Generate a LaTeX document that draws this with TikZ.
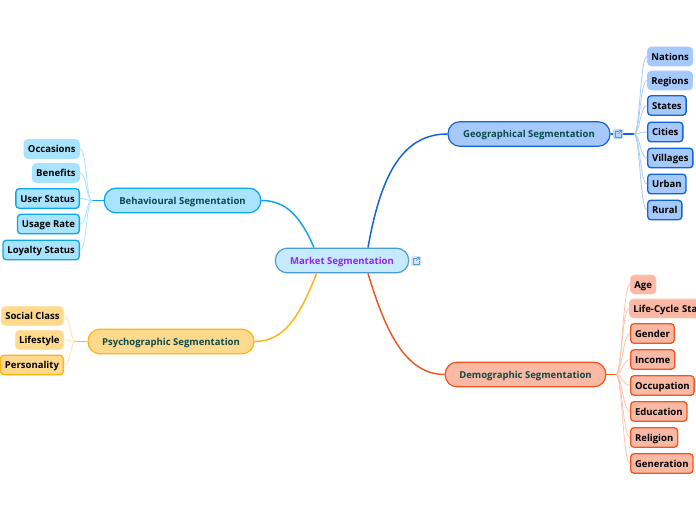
\documentclass[tikz,border=0pt]{standalone}
\usepackage{fontspec}
\setmainfont{Open Sans}
\definecolor{rootfill}{HTML}{C6EAFE}
\definecolor{rootline}{HTML}{4A9CD3}
\definecolor{rootink}{HTML}{9A1FF0}
\definecolor{rootchip}{HTML}{DCE4FC}
\definecolor{mainink}{HTML}{0B4A4A}
\definecolor{geofill}{HTML}{A6C9FB}
\definecolor{geoline}{HTML}{1262D8}
\definecolor{geosoft}{HTML}{A9CBFA}
\definecolor{demofill}{HTML}{F9B9A4}
\definecolor{demoline}{HTML}{F2561F}
\definecolor{demosoft}{HTML}{FCC4B2}
\definecolor{behavfill}{HTML}{A9E4FF}
\definecolor{behavline}{HTML}{0FA5E9}
\definecolor{behavsoft}{HTML}{A6E2FF}
\definecolor{psychofill}{HTML}{FFD98C}
\definecolor{psycholine}{HTML}{FDB515}
\definecolor{psychosoft}{HTML}{FFE2A6}
\tikzset{
  boldtext/.style={font=\fontsize{7.15}{8}\selectfont\bfseries,text height=6.4pt,text depth=0.7pt},
  mainbox/.style={boldtext,draw=#1line,fill=#1fill,line width=0.9pt,rounded corners=9pt,minimum height=18.5pt,inner sep=0pt,text=mainink},
  softleaf/.style={boldtext,draw=#1soft,fill=#1fill,line width=0.75pt,rounded corners=3pt,minimum height=14pt,inner xsep=2.9pt,inner ysep=0pt},
  hardleaf/.style={boldtext,draw=#1line,fill=#1fill,line width=1pt,rounded corners=2.5pt,minimum height=14.6pt,inner xsep=3.3pt,inner ysep=0pt},
  iconbox/.style={fill=#1,rounded corners=1pt,minimum size=7.5pt,inner sep=0pt},
  linkicon/.pic={
    \draw[#1,line width=0.5pt] (1,-3) -- (-3,-3) -- (-3,3) -- (3,3) -- (3,0);
    \draw[#1,line width=0.5pt] (0,0) -- (3.5,-3.5);
    \draw[#1,line width=0.5pt] (0.5,-3.5) -- (3.5,-3.5) -- (3.5,-0.5);
  }
}
\begin{document}
\begin{tikzpicture}[x=0.75pt,y=-0.75pt]
\useasboundingbox (0,0) rectangle (696,520);
\fill[white] (0,0) rectangle (696,520);
% centre
\node[boldtext,draw=rootline,fill=rootfill,line width=0.9pt,rounded corners=9pt,minimum width=100pt,minimum height=18.5pt,inner sep=0pt,text=rootink] (root) at (342,260.5) {Market Segmentation};
\node[iconbox=rootchip] (rootlink) at (416,261) {};
\pic at (rootlink) {linkicon={rootline}};
% four branches
\node[mainbox=geo,minimum width=121.5pt] (geo) at (529,134) {Geographical Segmentation\hspace{3pt}};
\node[mainbox=demo,minimum width=120.5pt] (demo) at (525.5,374.5) {Demographic Segmentation};
\node[mainbox=behav,minimum width=117.5pt] (behav) at (182.5,200.5) {Behavioural Segmentation};
\node[mainbox=psycho,minimum width=124.5pt] (psycho) at (171,341.5) {Psychographic Segmentation};
\draw[geoline,line width=1.1pt] ([xshift=19.5pt]root.north) .. controls (380,180) and (400,134) .. (geo.west);
\draw[demoline,line width=1.1pt] ([xshift=19.5pt]root.south) .. controls (385,330) and (405,374.5) .. (demo.west);
\draw[behavline,line width=1.1pt] ([xshift=-21pt]root.north) .. controls (300,215) and (285,200.5) .. (behav.east);
\draw[psycholine,line width=1.1pt] ([xshift=-19pt]root.south) .. controls (300,315) and (285,341.5) .. (psycho.east);
% hubs
\coordinate (geohub) at (634,134);
\coordinate (demohub) at (616,374.5);
\coordinate (behavhub) at (92,200.5);
\coordinate (psychohub) at (76,341.5);
\draw[geoline,line width=1.1pt] (geo.east) -- (geohub);
\draw[demoline,line width=1.1pt] (demo.east) -- (demohub);
\draw[behavline,line width=1.1pt] (behav.west) -- (behavhub);
\draw[psycholine,line width=1.1pt] (psycho.west) -- (psychohub);
\node[iconbox=geofill!75!white] (geolink) at (618,134) {};
\pic at (geolink) {linkicon={geoline!70!white}};
% leaves on the right
\foreach \leafname/\leaftext/\leafy/\leafsty in {nations/Nations/56.5/softleaf,regions/Regions/80.5/softleaf,states/States/105.5/hardleaf,cities/Cities/132/hardleaf,villages/Villages/158/hardleaf,urban/Urban/184/hardleaf,rural/Rural/210/hardleaf}{
  \node[\leafsty=geo,anchor=west] (\leafname) at (647,\leafy) {\leaftext};
  \draw[geosoft,line width=0.6pt] (geohub) .. controls +(6,0) and +(-7,0) .. (\leafname.west);
}
\node[softleaf=demo,anchor=west,text width=70pt,align=left] (lifecycle) at (629,308.5) {Life-Cycle Sta};
\draw[demosoft,line width=0.6pt] (demohub) .. controls +(6,0) and +(-7,0) .. (lifecycle.west);
\foreach \leafname/\leaftext/\leafy/\leafsty in {age/Age/284.5/softleaf,gender/Gender/333.5/hardleaf,income/Income/359.5/hardleaf,occupation/Occupation/385.5/hardleaf,education/Education/411.5/hardleaf,religion/Religion/437.5/hardleaf,generation/Generation/463.5/hardleaf}{
  \node[\leafsty=demo,anchor=west] (\leafname) at (630,\leafy) {\leaftext};
  \draw[demosoft,line width=0.6pt] (demohub) .. controls +(6,0) and +(-7,0) .. (\leafname.west);
}
% leaves on the left
\foreach \leafname/\leaftext/\leafy/\leafsty in {occasions/Occasions/149/softleaf,benefits/Benefits/173/softleaf,userstatus/User Status/198.5/hardleaf,usagerate/Usage Rate/224/hardleaf,loyalty/Loyalty Status/250/hardleaf}{
  \node[\leafsty=behav,anchor=east] (\leafname) at (80,\leafy) {\leaftext};
  \draw[behavsoft,line width=0.6pt] (behavhub) .. controls +(-6,0) and +(7,0) .. (\leafname.east);
}
\foreach \leafname/\leaftext/\leafy/\leafsty in {socialclass/Social Class/316/softleaf,lifestyle/Lifestyle/340/softleaf,personality/Personality/365/hardleaf}{
  \node[\leafsty=psycho,anchor=east] (\leafname) at (64,\leafy) {\leaftext};
  \draw[psychosoft,line width=0.6pt] (psychohub) .. controls +(-6,0) and +(7,0) .. (\leafname.east);
}
\end{tikzpicture}
\end{document}
